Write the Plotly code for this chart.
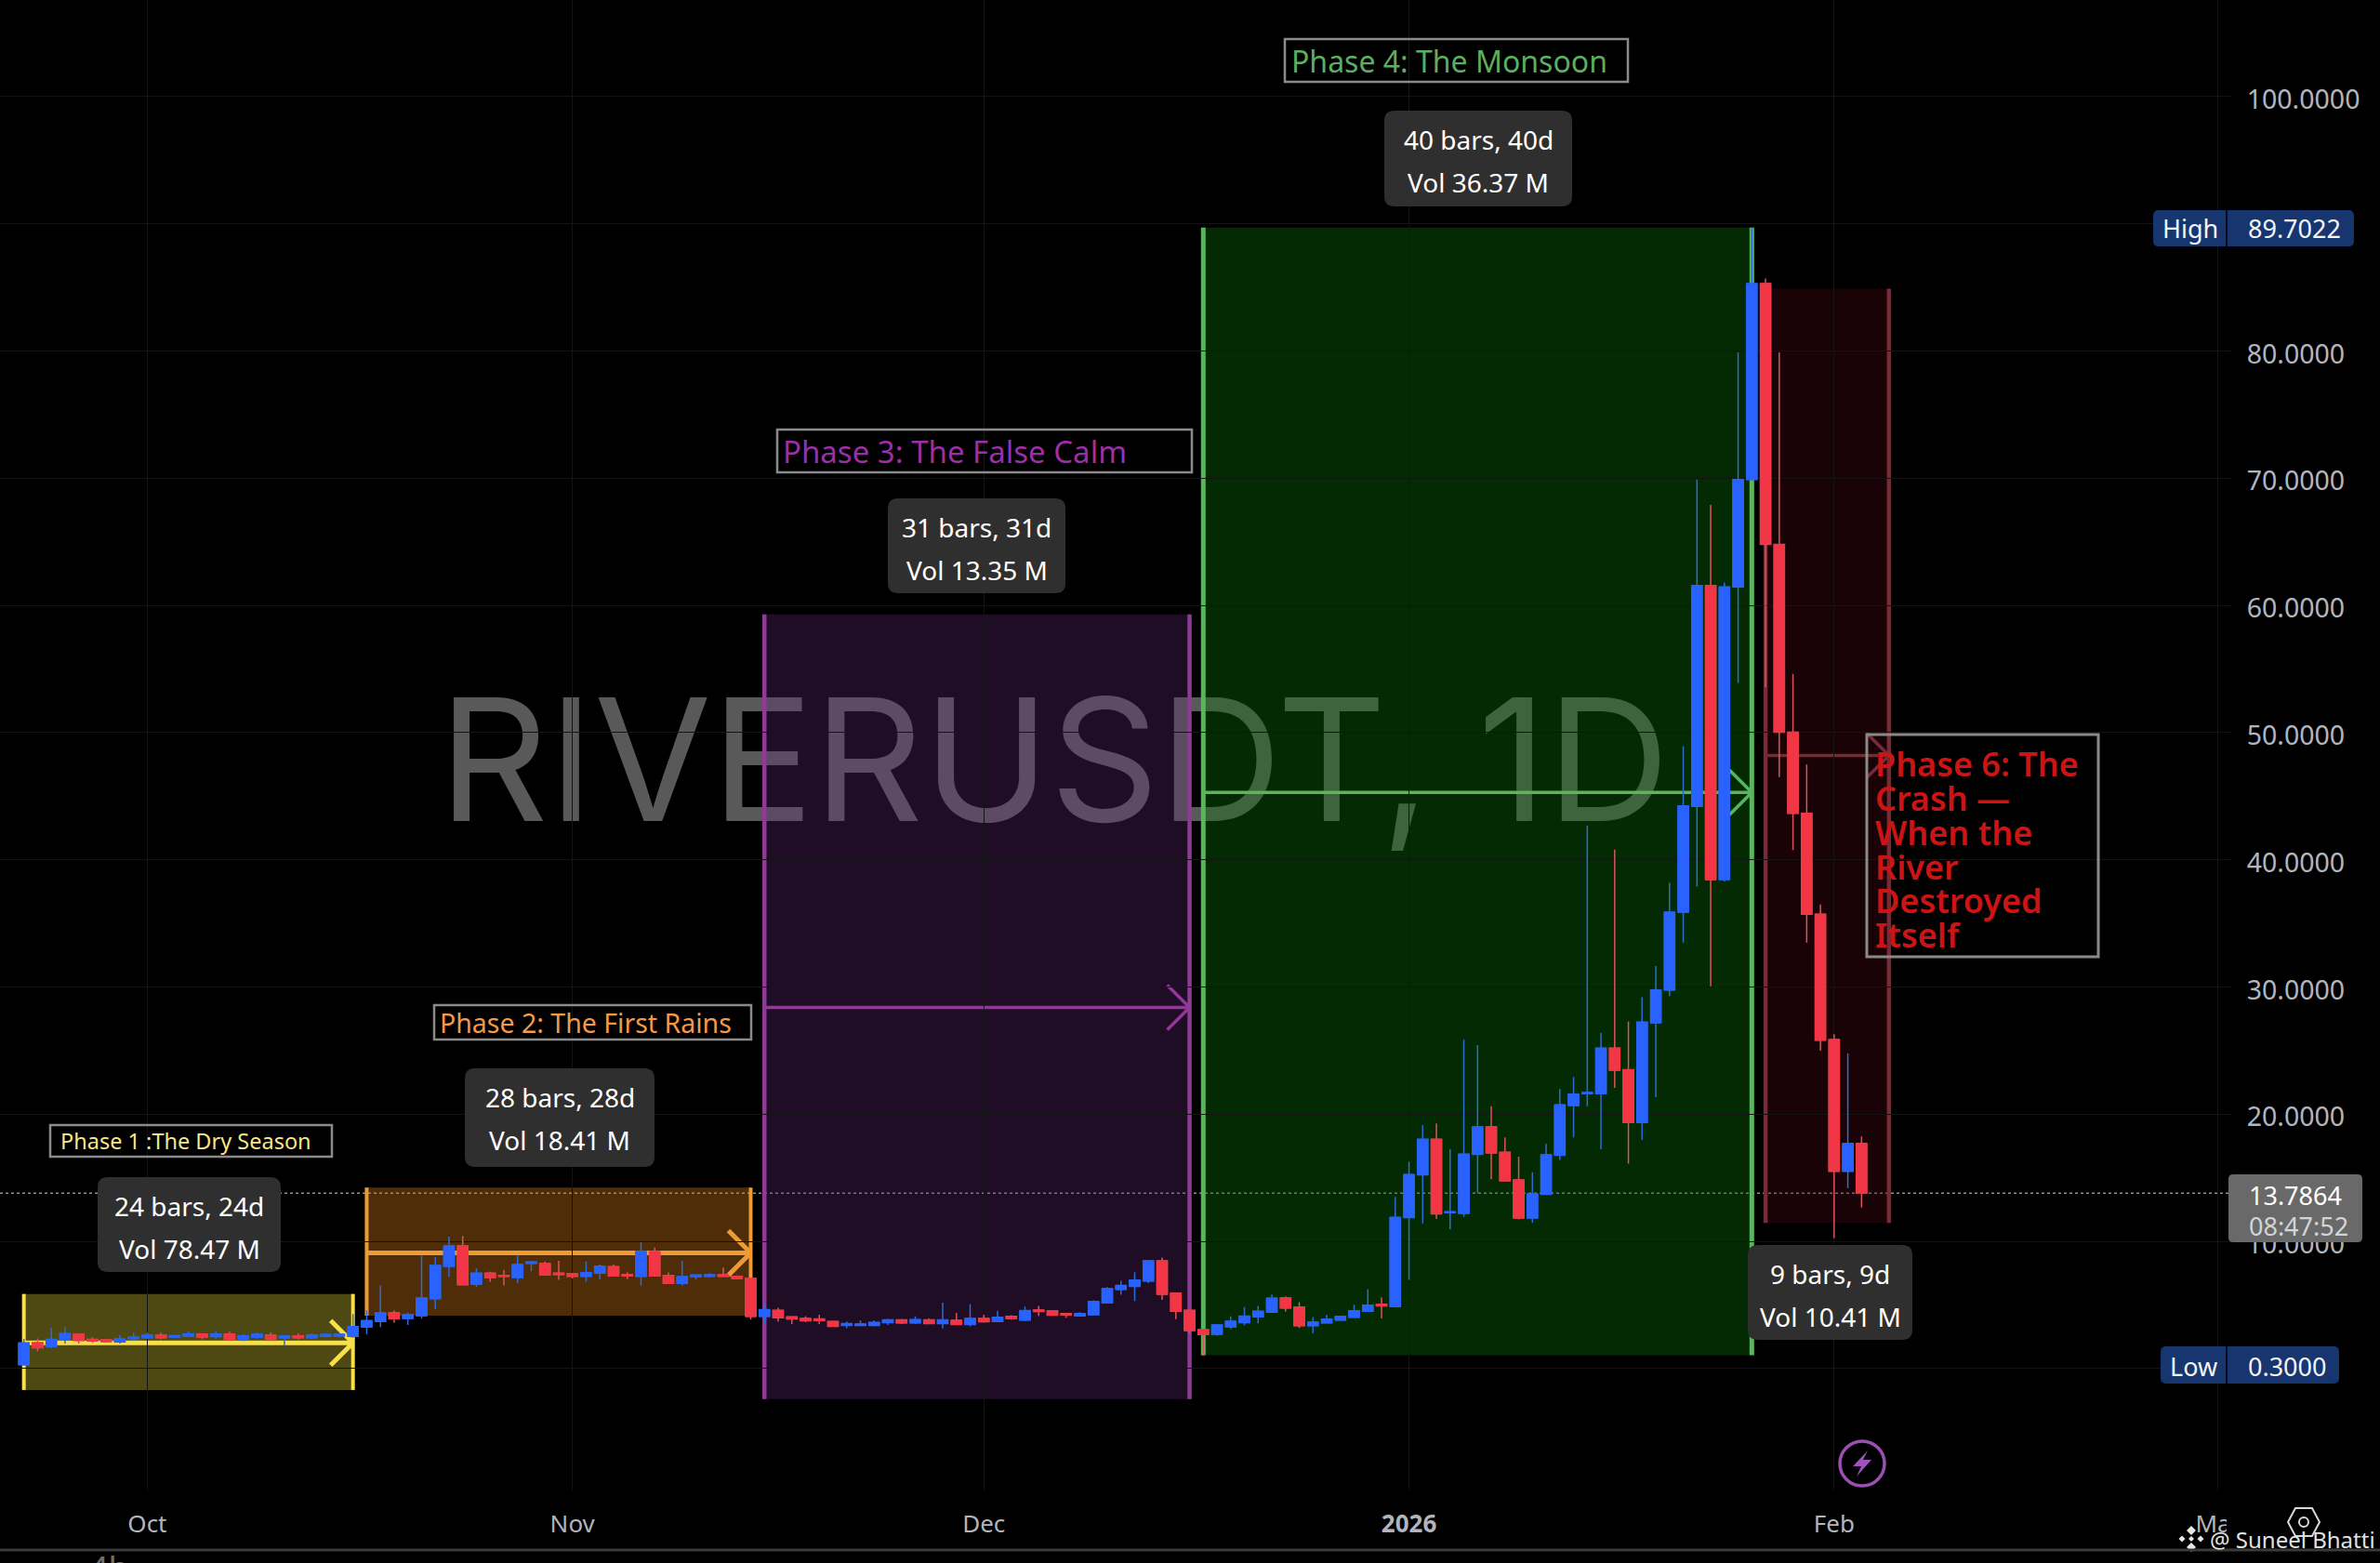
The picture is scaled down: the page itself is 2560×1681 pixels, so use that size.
import pandas as pd
import plotly.graph_objects as go

dates = pd.date_range("2025-09-22", periods=135, freq="D")

opens = [0.30,2.04,1.73,2.29,2.70,2.29,2.26,2.09,2.36,
 2.43,2.63,2.48,2.55,2.72,2.51,2.72,2.26,2.46,2.63,2.41,2.58,2.43,2.53,2.55,2.53,
 3.26,3.70,4.38,3.94,4.16,5.50,8.04,9.65,6.65,7.50,7.33,7.16,8.28,8.26,7.50,
 7.45,7.26,7.50,8.01,7.40,7.26,9.21,7.33,6.70,7.23,7.26,7.38,7.26,7.09,
 4.10,4.58,4.07,3.95,3.90,3.71,3.39,3.39,3.39,3.61,3.83,3.59,3.83,3.54,3.80,3.47,
 3.95,3.71,4.10,3.81,4.61,4.54,4.32,4.15,4.24,5.17,6.22,6.46,6.88,8.48,5.93,4.58,
 3.07,2.71,3.29,3.61,4.07,4.44,5.56,4.83,3.37,3.59,3.81,4.03,4.51,5.05,4.87,
 11.87,15.23,18.03,12.26,12.21,16.84,19.01,17.01,14.84,11.84,13.70,16.77,20.69,21.61,21.61,
 25.20,23.50,19.35,27.19,29.76,35.89,44.20,61.57,38.45,61.45,69.90,85.30,64.80,50.04,43.66,35.73,
 25.87,15.52,17.70]
highs = [2.34,2.38,3.19,3.26,2.75,2.46,2.34,2.63,2.82,
 2.82,2.82,2.68,2.95,2.77,2.90,2.90,2.70,2.82,2.82,2.63,2.75,2.77,2.77,2.77,4.29,
 4.58,6.53,4.58,4.41,8.87,8.77,10.38,10.43,7.89,7.62,7.77,8.87,8.48,8.43,8.48,
 7.50,8.43,8.18,8.18,7.57,9.94,9.52,7.57,8.48,7.40,7.50,7.94,7.33,7.16,
 5.07,4.78,4.12,4.12,4.24,3.71,3.71,3.80,3.80,3.93,3.90,4.10,3.95,5.19,4.39,5.07,
 4.24,4.54,4.20,4.88,4.93,4.59,4.37,4.44,5.37,6.41,6.90,7.58,8.48,8.73,5.93,4.59,
 3.07,3.49,4.10,4.83,4.93,5.83,5.68,5.22,4.05,4.24,4.17,5.02,6.24,5.58,13.50,
 16.28,19.15,19.28,17.25,25.85,25.44,20.62,18.18,16.67,15.43,17.67,21.98,22.93,42.70,26.40,
 40.80,27.30,29.20,31.65,38.20,48.94,69.90,67.90,61.80,79.90,89.70,85.70,79.90,54.60,47.50,36.50,
 26.30,24.80,18.26]
lows = [0.30,1.36,1.60,1.97,1.97,2.02,2.02,1.97,2.21,
 2.34,2.29,2.43,2.46,2.29,2.38,2.21,2.17,2.29,2.21,1.80,2.29,2.34,2.46,2.46,2.43,
 2.70,3.26,3.60,3.43,3.92,4.67,7.21,6.60,6.43,6.84,6.53,6.72,7.65,7.38,6.97,
 7.09,6.84,7.01,7.28,7.04,6.53,7.26,6.70,6.53,7.01,7.16,7.26,7.01,3.85,
 3.51,3.68,3.51,3.66,3.51,3.32,3.17,3.32,3.32,3.44,3.51,3.51,3.49,3.15,3.42,3.32,
 3.61,3.66,3.85,3.73,4.15,4.17,4.00,4.10,4.22,5.15,5.80,5.32,6.73,5.41,3.88,2.78,
 1.00,2.59,3.10,3.42,3.56,4.42,4.49,3.20,2.78,3.56,3.76,4.00,4.49,3.95,4.87,
 6.97,11.41,11.77,10.97,11.94,13.79,14.89,14.77,11.72,11.48,13.65,16.40,18.18,20.62,17.25,
 22.08,16.11,17.98,21.35,29.30,33.50,37.90,30.06,38.30,53.90,69.90,53.56,46.50,40.76,33.50,25.00,
 10.26,14.17,12.66]
closes = [2.02,1.65,2.29,2.75,2.21,2.17,2.12,2.34,2.48,
 2.63,2.43,2.60,2.72,2.48,2.72,2.29,2.58,2.70,2.34,2.56,2.43,2.65,2.68,2.70,3.31,
 3.77,4.38,3.92,4.24,5.55,8.11,9.65,6.60,7.50,7.16,7.26,8.18,8.38,7.38,7.40,
 7.26,7.55,8.06,7.28,7.28,9.21,7.28,6.70,7.23,7.36,7.38,7.26,7.09,4.10,
 4.63,4.00,3.90,3.76,3.78,3.32,3.54,3.51,3.63,3.83,3.59,3.85,3.54,3.83,3.47,3.95,
 3.68,4.03,3.95,4.56,4.49,4.20,4.22,4.32,5.27,6.29,6.54,6.95,8.48,5.85,4.51,3.00,
 2.69,3.44,3.73,4.12,4.51,5.54,4.76,3.37,3.66,3.88,4.10,4.54,4.98,4.93,11.89,
 15.26,18.03,12.16,12.33,16.86,19.01,16.96,14.77,11.84,13.74,16.81,20.74,21.57,21.71,25.20,
 23.47,19.35,27.24,29.76,35.89,44.24,61.57,38.45,61.45,69.90,85.30,64.80,50.04,43.66,35.73,25.82,
 15.52,17.70,13.7864]

phase_starts = ["2025-09-22","2025-10-17","2025-11-15","2025-12-17","2026-01-27"]
phase_ends   = ["2025-10-16","2025-11-14","2025-12-16","2026-01-26","2026-02-05"]
phase_tops   = [5.87,14.23,59.3,89.7,84.9]
phase_bots   = [-1.68,4.16,-2.4,1.05,11.46]
phase_arrows = [2.02,9.09,28.4,45.3,48.2]
phase_fills  = ["rgba(223,209,51,0.35)","rgba(226,129,23,0.35)","rgba(103,40,123,0.30)",
                "rgba(9,120,9,0.35)","rgba(83,10,20,0.30)"]
phase_edges  = ["#f6e04e","#f09a33","#8e3a96","#5ab55e","#7a2a35"]
edge_widths  = [4,4,4.5,5,4.5]
arrow_widths = [5,5,3.5,3.5,3.5]

month_ticks  = ["2025-10-01","2025-11-01","2025-12-01","2026-01-01","2026-02-01","2026-03-01"]
month_labels = ["Oct","Nov","Dec","<b>2026</b>","Feb","Mar"]
price_ticks  = [0,10,20,30,40,50,60,70,80,90,100]
last_price   = 13.7864

# layout helpers: pixel positions on the page
PW, PH = 2400.0, 1603.0
FONT = "Noto Sans"
def px(x): return x / PW
def py(y): return 1 - y / PH
DAY_W, UNIT_H = 14.75, 13.68

shapes, annos = [], []

def rrect(x0, y0, x1, y1, r, fill):
    xs = lambda v: f"{px(v):.5f}"
    ys = lambda v: f"{py(v):.5f}"
    p = (f"M{xs(x0+r)},{ys(y0)} L{xs(x1-r)},{ys(y0)} Q{xs(x1)},{ys(y0)} {xs(x1)},{ys(y0+r)} "
         f"L{xs(x1)},{ys(y1-r)} Q{xs(x1)},{ys(y1)} {xs(x1-r)},{ys(y1)} "
         f"L{xs(x0+r)},{ys(y1)} Q{xs(x0)},{ys(y1)} {xs(x0)},{ys(y1-r)} "
         f"L{xs(x0)},{ys(y0+r)} Q{xs(x0)},{ys(y0)} {xs(x0+r)},{ys(y0)} Z")
    shapes.append(dict(type="path", xref="paper", yref="paper", path=p, fillcolor=fill,
                       line=dict(width=0), layer="above"))

def text(x, y, s, size, color, anchor="center", weight=None, family=FONT):
    font = dict(size=size, color=color, family=family)
    if weight: font["weight"] = weight
    annos.append(dict(xref="paper", yref="paper", x=px(x), y=py(y), text=s, showarrow=False,
                      xanchor=anchor, yanchor="middle", font=font, borderpad=0))

# phase rectangles
for s, e, t, b, f in zip(phase_starts, phase_ends, phase_tops, phase_bots, phase_fills):
    shapes.append(dict(type="rect", xref="x", yref="y", x0=s, x1=e, y0=b, y1=t, fillcolor=f,
                       line=dict(width=0), layer="below"))

# watermark, under the candles
shapes.append(dict(type="rect", xref="paper", yref="paper", x0=px(234), x1=px(2034),
                   y0=py(910), y1=py(710), fillcolor="rgba(0,0,0,0)", line=dict(width=0), layer="below",
                   label=dict(text="RIVERUSDT, 1D", textposition="middle center",
                              font=dict(size=183, color="rgba(255,255,255,0.35)", family="Inter"))))

# phase edges and arrows
for s, e, t, b, a, c, w, aw in zip(phase_starts, phase_ends, phase_tops, phase_bots,
                                   phase_arrows, phase_edges, edge_widths, arrow_widths):
    for xv in (s, e):
        shapes.append(dict(type="line", xref="x", yref="y", x0=xv, x1=xv, y0=b, y1=t,
                           line=dict(color=c, width=w), layer="below"))
    shapes.append(dict(type="line", xref="x", yref="y", x0=s, x1=e, y0=a, y1=a,
                       line=dict(color=c, width=aw), layer="below"))
    tail = pd.Timestamp(e) - pd.Timedelta(days=24 / DAY_W)
    for sign in (1, -1):
        shapes.append(dict(type="line", xref="x", yref="y", x0=tail, x1=e,
                           y0=a + sign * 24 / UNIT_H, y1=a, line=dict(color=c, width=aw), layer="below"))

# last price dotted line
shapes.append(dict(type="line", xref="paper", yref="y", x0=0, x1=1, y0=last_price, y1=last_price,
                   line=dict(color="#8f8f8f", width=1.5, dash="dot"), layer="below"))

# phase title boxes
titles = [
    (54, 1210, 357, 1244, "Phase 1 :The Dry Season", 23.5, "#f7e58c", 10),
    (467, 1081, 808, 1118, "Phase 2: The First Rains", 28.5, "#f2994a", 5),
    (836, 462, 1282, 508, "Phase 3: The False Calm", 33, "#9c2fa8", 5),
    (1382, 42, 1751, 88, "Phase 4: The Monsoon", 32, "#5cae60", 6),
]
for x0, y0, x1, y1, s, size, col, inset in titles:
    shapes.append(dict(type="rect", xref="paper", yref="paper", x0=px(x0), x1=px(x1), y0=py(y1), y1=py(y0),
                       line=dict(color="#8a8a8a", width=2.5), fillcolor="rgba(0,0,0,0)", layer="above"))
    text(x0 + inset, (y0 + y1) / 2, s, size, col, anchor="left")

# measure tooltips
tips = [
    (105, 1266, 302, 1368, "24 bars, 24d", "Vol 78.47 M"),
    (500, 1149, 704, 1255, "28 bars, 28d", "Vol 18.41 M"),
    (955, 536, 1146, 638, "31 bars, 31d", "Vol 13.35 M"),
    (1489, 119, 1691, 222, "40 bars, 40d", "Vol 36.37 M"),
    (1880, 1339, 2057, 1441, "9 bars, 9d", "Vol 10.41 M"),
]
for x0, y0, x1, y1, a, b in tips:
    rrect(x0, y0, x1, y1, 11, "#2f2f2f")
    text((x0 + x1) / 2, y0 + 31, a, 28, "#ffffff")
    text((x0 + x1) / 2, y0 + 77, b, 28, "#ffffff")

# phase 6 text block
shapes.append(dict(type="rect", xref="paper", yref="paper", x0=px(2008), x1=px(2257), y0=py(1029), y1=py(790),
                   line=dict(color="#8a8a8a", width=3), fillcolor="rgba(0,0,0,0)", layer="above"))
crash_lines = ["Phase 6: The", "Crash —", "When the", "River", "Destroyed", "Itself"]
crash_y = [821, 858, 895, 932, 968, 1006]
for s, y in zip(crash_lines, crash_y):
    text(2016, y, s, 36, "#cc1414", anchor="left", weight=600)

# right-hand price tags
rrect(2316, 226, 2532, 265, 6, "#17366f")
rrect(2324, 1448, 2516, 1488, 6, "#17366f")
shapes.append(dict(type="line", xref="paper", yref="paper", x0=px(2395), x1=px(2395), y0=py(265), y1=py(226),
                   line=dict(color="#000000", width=1.5), layer="above"))
shapes.append(dict(type="line", xref="paper", yref="paper", x0=px(2395), x1=px(2395), y0=py(1488), y1=py(1448),
                   line=dict(color="#000000", width=1.5), layer="above"))
text(2356, 245, "High", 27, "#f2f4f8")
text(2468, 245, "89.7022", 27, "#f2f4f8")
text(2359, 1469, "Low", 27, "#f2f4f8")
text(2460, 1469, "0.3000", 27, "#f2f4f8")
rrect(2397, 1263, 2541, 1336, 5, "#696969")
text(2469, 1285, "13.7864", 27, "#ffffff")
text(2472, 1318, "08:47:52", 27, "#d4d4d4")

# lightning icon
cx, cy = 2003, 1574
shapes.append(dict(type="circle", xref="paper", yref="paper", x0=px(cx-24), x1=px(cx+24), y0=py(cy+24), y1=py(cy-24),
                   line=dict(color="#9b4fb0", width=3.5), fillcolor="rgba(0,0,0,0)", layer="above"))
bolt = [(6,-14),(-10,3),(-1,3),(-6,14),(10,-4),(1,-4)]
shapes.append(dict(type="path", xref="paper", yref="paper", layer="above", fillcolor="#a050c0", line=dict(width=0),
                   path="M" + " L".join(f"{px(cx+a):.5f},{py(cy+b):.5f}" for a, b in bolt) + " Z"))

# cover the clipped end of the March label
shapes.append(dict(type="rect", xref="paper", yref="paper", x0=px(2395), x1=px(2440), y0=py(1665), y1=py(1610),
                   fillcolor="#000000", line=dict(width=0), layer="above"))

# hexagon icon
hx, hy = 2478, 1637
hexa = [(-17,0),(-9,-15),(9,-15),(17,0),(9,15),(-9,15)]
shapes.append(dict(type="path", xref="paper", yref="paper", layer="above", fillcolor="rgba(0,0,0,0)",
                   line=dict(color="#d8d8d8", width=2),
                   path="M" + " L".join(f"{px(hx+a):.5f},{py(hy+b):.5f}" for a, b in hexa) + " Z"))
shapes.append(dict(type="circle", xref="paper", yref="paper", x0=px(hx-5), x1=px(hx+5), y0=py(hy+5), y1=py(hy-5),
                   line=dict(color="#d8d8d8", width=2), fillcolor="rgba(0,0,0,0)", layer="above"))

# exchange mark
bx, by = 2357, 1655
for dx, dy, r in ((0,-9,5),(0,9,5),(-10,0,3.5),(10,0,3.5),(0,0,3)):
    d = [(0,-r),(r,0),(0,r),(-r,0)]
    shapes.append(dict(type="path", xref="paper", yref="paper", layer="above", fillcolor="#e6e6e6", line=dict(width=0),
                       path="M" + " L".join(f"{px(bx+dx+a):.5f},{py(by+dy+b):.5f}" for a, b in d) + " Z"))
text(2376, 1655, "@ Suneel Bhatti", 24, "#e2e2e2", anchor="left")

# bottom rule and the clipped text below it
annos.append(dict(xref="paper", yref="paper", x=px(117), y=py(1661), text="4h", showarrow=False, xanchor="center",
                  yanchor="top", font=dict(size=36, color="#6e6e6e", family=FONT), borderpad=0))
shapes.append(dict(type="line", xref="paper", yref="paper", x0=0, x1=2560 / PW, y0=py(1667), y1=py(1667),
                   line=dict(color="#3a3a3a", width=3), layer="above"))

# wick layer, then body layer
fig = go.Figure()
fig.add_trace(go.Candlestick(
    x=dates, open=opens, high=highs, low=lows, close=closes,
    increasing=dict(line=dict(color="#2a6ed4", width=1.5), fillcolor="#2962ff"),
    decreasing=dict(line=dict(color="#d9555a", width=1.5), fillcolor="#f23645"),
    whiskerwidth=0, showlegend=False, hoverinfo="skip",
))
fig.add_trace(go.Candlestick(
    x=dates, open=opens, close=closes,
    high=[max(o, c) for o, c in zip(opens, closes)],
    low=[min(o, c) for o, c in zip(opens, closes)],
    increasing=dict(line=dict(color="#2962ff", width=1), fillcolor="#2962ff"),
    decreasing=dict(line=dict(color="#f23645", width=1), fillcolor="#f23645"),
    whiskerwidth=0, showlegend=False, hoverinfo="skip",
))

fig.update_layout(
    width=2560, height=1681, autosize=False,
    margin=dict(l=0, r=160, t=0, b=78, pad=0),
    paper_bgcolor="#000000", plot_bgcolor="#000000",
    showlegend=False, shapes=shapes, annotations=annos,
    font=dict(family=FONT, color="#b2b5bc"),
    boxgap=0.24, boxgroupgap=0,
    xaxis=dict(type="date", range=["2025-09-20 06:15", "2026-03-01 23:00"], rangeslider=dict(visible=False),
               tickmode="array", tickvals=month_ticks, ticktext=month_labels,
               tickfont=dict(size=26, color="#b2b5bc", family=FONT),
               showgrid=True, gridcolor="#141414", gridwidth=1, zeroline=False, showline=False,
               ticks="outside", ticklen=13, tickcolor="rgba(0,0,0,0)"),
    yaxis=dict(side="right", range=[-9.58, 107.6], tickmode="array", tickvals=price_ticks,
               tickformat=".4f", tickfont=dict(size=28.5, color="#b2b5bc", family=FONT),
               showgrid=True, gridcolor="#141414", gridwidth=1, zeroline=False, showline=False,
               ticks="outside", ticklen=10, tickcolor="rgba(0,0,0,0)", ticklabelshift=3),
)

fig.write_html("out.html", config=dict(displayModeBar=False),
               post_script="document.body.style.margin='0';document.body.style.background='#000';")
